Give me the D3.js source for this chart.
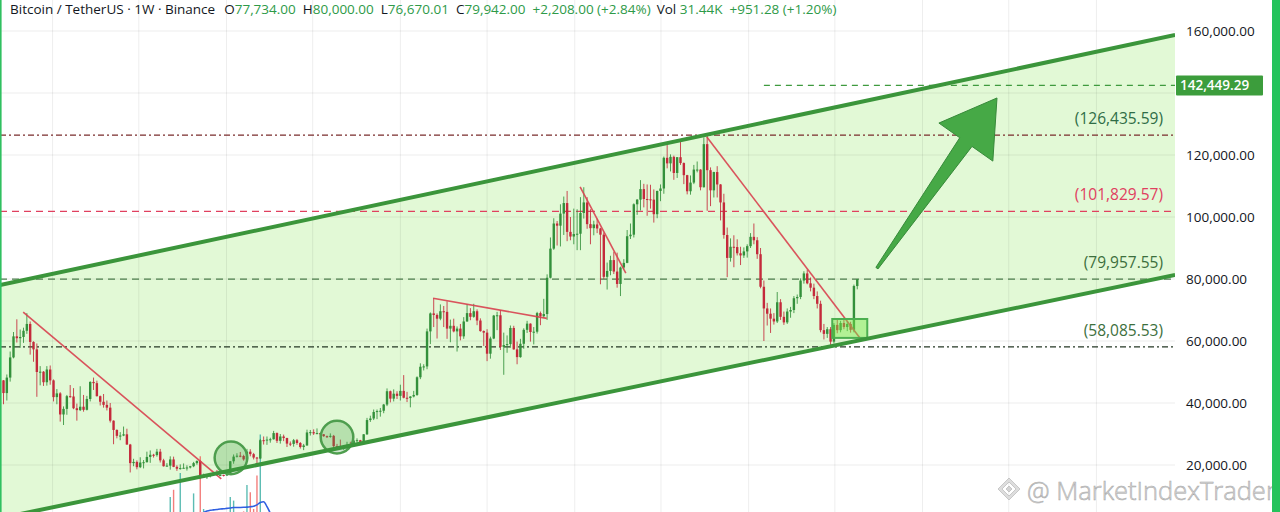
<!DOCTYPE html>
<html><head><meta charset="utf-8">
<script src="https://cdn.jsdelivr.net/npm/d3@7"></script>
<style>html,body{margin:0;padding:0;background:#fff;overflow:hidden}svg{display:block}</style>
</head><body>
<svg id="c" width="1280" height="512"></svg>
<script>
// ---------------- DATA (prices in thousands of USDT, weekly candles) ----------------
const startDate = "2021-09-20"; // first weekly candle
const openK = [
 47.3,43.2,48.2,54.7,61.5,60.9,61.3,63.3,65.5,59.7,57.3,50.0,50.1,46.7,50.8,
 47.3,41.9,43.1,36.3,38.1,42.2,42.1,38.3,37.7,38.8,37.8,41.3,46.8,46.4,42.2,40.4,39.4,38.5,34.3,31.3,
 29.4,29.5,29.9,26.6,20.6,21.0,19.3,20.8,20.9,22.6,23.3,23.2,24.3,21.5,19.6,19.8,21.8,19.4,18.8,19.0,
 19.1,19.2,19.6,20.6,21.3,16.3,16.3,16.4,17.1,17.2,16.8,16.8,
 16.6,17.1,21.2,22.7,23.0,22.9,21.8,24.3,23.5,22.4,22.1,28.0,27.9,28.2,28.3,30.3,27.8,29.2,28.7,26.9,
 26.8,28.0,27.1,25.8,26.3,30.5,30.6,30.2,30.3,29.9,29.3,29.1,29.4,26.1,26.0,25.8,25.9,26.5,26.3,27.9,
 28.0,27.1,29.9,34.5,35.0,37.1,37.4,37.5,39.5,43.8,41.4,43.0,
 42.3,43.9,41.7,41.6,42.1,42.6,48.3,51.7,51.8,63.1,68.9,68.4,67.2,69.6,69.4,64.0,64.9,63.1,64.0,61.5,
 66.3,69.0,67.8,69.6,66.6,63.2,62.7,55.9,60.8,68.2,68.3,58.1,58.7,59.0,64.2,57.3,54.8,59.1,63.6,65.6,
 62.9,63.0,69.0,68.0,68.7,80.4,89.8,97.9,97.2,101.1,104.5,95.2,93.7,
 94.5,94.6,101.3,104.7,97.7,96.4,97.6,96.3,94.3,80.7,82.6,86.1,82.4,78.4,83.7,85.2,93.8,94.3,104.1,105.6,
 109.0,105.8,105.7,105.6,100.9,108.4,109.2,119.1,117.3,119.4,114.2,119.3,117.4,113.5,108.3,111.1,115.3,115.3,109.6,123.5,
 115.1,108.6,114.5,110.5,104.7,94.2,86.8,90.4,90.3,88.3,87.6,88.9,90.6,93.6,92.5,88.0,77.5,70.5,68.8,67.2,
 66.3,72.5,67.8,66.0,69.5,70.0,73.8,74.2,79.5,81.8,78.6,77.2,74.5,72.0,63.5,62.3,63.8,59.8,65.2,63.5,
 65.8,64.5,65.5,63.6,77.73
];
const highK = [
 47.4,49.2,56.6,62.9,67.0,63.7,64.3,69.0,66.3,59.9,59.2,51.9,50.3,51.9,52.1,
 47.6,44.5,43.5,38.9,42.6,45.8,44.8,39.8,45.4,42.6,42.3,47.0,48.2,47.2,42.4,42.9,40.8,40.0,34.4,31.5,
 30.6,32.4,31.7,26.8,22.0,21.5,22.5,21.6,24.3,24.7,23.6,25.2,25.2,22.0,20.6,22.8,22.7,19.9,20.2,20.5,
 19.9,19.7,21.0,21.5,21.5,17.2,16.8,17.4,17.4,18.4,17.0,16.9,
 17.2,21.3,23.4,23.8,24.2,23.3,25.2,25.1,23.9,22.6,28.4,29.2,29.2,28.8,31.0,30.5,30.0,29.8,28.8,27.6,
 28.4,28.4,27.4,26.8,31.4,31.3,31.5,31.8,30.4,30.0,29.5,30.2,29.7,26.8,28.2,26.4,27.5,27.5,28.0,28.6,
 28.1,30.0,35.2,35.9,37.9,37.9,38.4,39.7,44.7,44.0,44.4,43.8,
 45.9,49.0,43.6,42.2,43.9,48.6,52.8,52.5,64.0,69.2,73.8,68.9,71.8,71.3,72.8,66.9,67.2,64.7,65.5,67.7,
 71.9,70.6,72.0,70.2,67.3,63.4,63.8,61.4,68.4,69.4,70.0,62.7,61.8,65.0,64.9,59.8,60.7,64.1,66.5,65.7,
 64.5,69.4,69.5,73.6,81.5,93.4,99.6,98.7,104.1,106.6,108.4,100.0,102.7,
 102.5,106.4,109.6,106.4,102.5,98.8,99.5,96.5,95.0,85.3,87.5,88.8,88.5,84.0,86.4,95.8,97.9,104.4,105.8,111.9,
 110.7,110.5,110.4,108.9,108.5,110.5,119.5,123.2,120.2,119.8,119.3,124.5,117.6,113.6,113.4,116.8,117.9,115.4,125.7,126.2,
 116.0,114.6,116.4,110.6,107.5,96.6,93.1,94.1,92.8,90.4,90.2,91.2,94.8,97.9,93.5,90.0,79.5,72.3,70.5,69.0,
 75.8,73.5,69.5,70.5,71.0,74.5,75.0,80.2,82.5,83.0,80.5,78.5,76.0,73.0,65.5,64.5,64.5,65.8,66.8,66.5,
 67.2,66.5,66.2,78.2,80.0
];
const lowK = [
 39.6,40.8,46.9,54.4,59.5,57.8,59.4,62.3,55.6,53.3,42.0,45.7,45.5,45.6,45.9,
 40.5,39.6,34.0,32.9,36.2,41.7,38.0,34.3,37.4,37.2,37.6,40.5,44.2,42.1,39.2,38.5,37.6,33.7,26.7,28.6,
 28.0,29.3,26.5,17.6,19.6,18.6,19.0,18.9,20.8,20.7,22.4,22.7,20.8,19.5,19.5,18.5,19.3,18.1,18.5,18.9,
 18.2,18.9,19.3,20.1,15.6,15.8,15.5,16.0,16.9,16.5,16.4,16.3,
 16.5,17.0,20.4,22.4,22.5,21.4,21.4,22.8,21.8,19.6,21.9,26.6,26.5,27.2,28.2,27.1,26.9,27.7,25.8,26.1,
 25.9,26.5,25.3,24.8,26.2,29.5,29.7,29.9,29.5,29.1,28.7,28.8,25.2,25.8,25.7,24.9,24.9,26.0,26.0,27.3,
 26.5,26.9,29.7,33.9,34.5,34.8,35.6,36.7,39.0,40.2,40.5,41.3,
 40.8,41.5,40.3,38.6,41.8,42.3,47.7,50.5,50.9,59.0,64.5,60.8,66.7,64.5,60.7,59.6,62.8,56.6,60.2,60.7,
 66.2,66.7,67.5,65.1,63.0,58.4,53.5,54.3,60.6,63.5,57.1,49.1,56.2,57.8,57.2,52.5,54.6,57.5,62.6,59.8,
 58.9,62.4,65.1,67.5,66.8,80.2,89.4,90.8,90.5,94.2,92.2,92.5,91.2,
 89.3,89.3,99.5,96.2,91.2,94.1,94.8,78.3,80.0,76.6,81.2,81.6,77.2,74.5,83.1,85.1,92.9,93.4,100.7,102.1,
 103.1,100.4,102.7,98.2,99.6,105.1,107.5,115.7,114.7,112.0,112.6,116.8,110.6,107.3,107.2,110.6,114.4,108.6,109.5,102.0,
 103.5,106.3,106.3,98.9,93.0,80.6,85.6,83.8,87.6,84.5,86.8,86.9,90.0,91.2,86.5,77.0,60.0,65.0,62.6,65.3,
 65.8,66.8,65.2,65.5,67.5,69.0,72.0,73.5,78.5,78.3,76.0,73.5,70.5,62.8,60.5,61.0,58.7,59.2,62.5,62.8,
 63.8,63.2,62.7,62.8,76.67
];
const closeK = [
 43.2,48.2,54.7,61.5,60.9,61.3,63.3,65.5,59.7,57.3,50.0,50.1,46.7,50.8,47.3,
 41.9,43.1,36.3,38.1,42.2,42.1,38.3,37.7,38.8,37.8,41.3,46.8,46.4,42.2,40.4,39.4,38.5,34.3,31.3,29.4,
 29.5,29.9,26.6,20.6,21.0,19.3,20.8,20.9,22.6,23.3,23.2,24.3,21.5,19.6,19.8,21.8,19.4,18.8,19.0,19.1,
 19.2,19.6,20.6,21.3,16.3,16.3,16.4,17.1,17.2,16.8,16.8,16.6,
 17.1,21.2,22.7,23.0,22.9,21.8,24.3,23.5,22.4,22.1,28.0,27.9,28.2,28.3,30.3,27.8,29.2,28.7,26.9,26.8,
 28.0,27.1,25.8,26.3,30.5,30.6,30.2,30.3,29.9,29.3,29.1,29.4,26.1,26.0,25.8,25.9,26.5,26.3,27.9,28.0,
 27.1,29.9,34.5,35.0,37.1,37.4,37.5,39.5,43.8,41.4,43.0,42.3,
 43.9,41.7,41.6,42.1,42.6,48.3,51.7,51.8,63.1,68.9,68.4,67.2,69.6,69.4,64.0,64.9,63.1,64.0,61.5,66.3,
 69.0,67.8,69.6,66.6,63.2,62.7,55.9,60.8,68.2,68.3,58.1,58.7,59.0,64.2,57.3,54.8,59.1,63.6,65.6,62.9,
 63.0,69.0,68.0,68.7,80.4,89.8,97.9,97.2,101.1,104.5,95.2,93.7,94.5,
 94.6,101.3,104.7,97.7,96.4,97.6,96.3,94.3,80.7,82.6,86.1,82.4,78.4,83.7,85.2,93.8,94.3,104.1,105.6,109.0,
 105.8,105.7,105.6,100.9,108.4,109.2,119.1,117.3,119.4,114.2,119.3,117.4,113.5,108.3,111.1,115.3,115.3,109.6,123.5,115.1,
 108.6,114.5,110.5,104.7,94.2,86.8,90.4,90.3,88.3,87.6,88.9,90.6,93.6,92.5,88.0,77.5,70.5,68.8,67.2,66.3,
 72.5,67.8,66.0,69.5,70.0,73.8,74.2,79.5,81.8,78.6,77.2,74.5,72.0,63.5,62.3,63.8,59.8,65.2,63.5,65.8,
 64.5,65.5,63.6,77.73,79.94
];
// volume (visible part of the volume pane only), starting at candle index volStart
const volStart = 48;
const volumeK = [20,22,40,46,25,60,24,22,26,43,24,74,30,25,22,20,18,19,15,22,40,37,26,24,28,50,44,30,58,92,25,20,15];
const maStart = 58;
const volMA = [24,25.5,27,28.3,29,29.3,29.6,30,30.2,30.5,30.8,31.2,31.3,31.3,31.4,31.6,31.9,32.3,33.4,35.5,36,32,26.5];
// axis ticks
const yTickValues = [20,40,60,80,100,120,160];
const gridValues = [20,40,60,80,100,120,140,160];
const gridDates = ["2022-01-01","2022-07-01","2023-01-01","2023-07-01","2024-01-01","2024-07-01","2025-01-01","2025-07-01","2026-01-01","2026-07-01","2027-01-01","2027-07-01","2028-01-01"];
// horizontal levels and their labels
const levels = [126.43559, 101.82957, 79.95755, 58.08553];
const levelLabels = ["(126,435.59)","(101,829.57)","(79,957.55)","(58,085.53)"];
const targetLevel = 142.44929, targetLabel = "142,449.29", targetStartIdx = 228;
// drawings: [candle index, price k]
const channelUpper = [[-1.05,78.06],[351.3,158.7]];
const channelLower = [[-1.05,2.84],[351.3,81.29]];
const trendLines = [
  [[5.9,69.3],[65.3,15.5]],
  [[128.8,73.8],[162.9,67.3]],
  [[172.9,109.7],[186.6,81.9]],
  [[210.9,125.8],[256.8,61.0]]
];
const circles = [[68.2,22.3],[100.0,29.0]];
const boxCorners = [[248.5,67.1],[259.0,61.0]];
const arrowPts = [[261.9,83.5],[297.9,138.4]];
// header legend
const headerTitle = "Bitcoin / TetherUS · 1W · Binance";
const headerItems = [["O","77,734.00"],["H","80,000.00"],["L","76,670.01"],["C","79,942.00"],["","+2,208.00 (+2.84%)"],["Vol","31.44K"],["","+951.28 (+1.20%)"]];
const watermark = "@ MarketIndexTrader";

// ---------------- DRAWING ----------------
const W = 1280, H = 512, plotRight = 1175;
const FONT = "'Open Sans', Roboto, sans-serif";
const svg = d3.select("#c");
const n = Math.min(openK.length, highK.length, lowK.length, closeK.length);
const x = d3.scaleLinear().domain([0, 256]).range([3.5, 3.5 + 3.335 * 256]);
const y = d3.scaleLinear().domain([20, 160]).range([465, 31]);
const vy = d3.scaleLinear().domain([0, 100]).range([545, 425]);
const t0 = Date.parse(startDate + "T00:00:00Z"), weekMs = 7 * 864e5;
const dateIdx = s => (Date.parse(s + "T00:00:00Z") - t0) / weekMs;
const line = d3.line().x(d => x(d[0])).y(d => y(d[1]));

svg.append("rect").attr("width", W).attr("height", H).attr("fill", "#fff");
const defs = svg.append("defs");
defs.append("clipPath").attr("id", "plot").append("rect").attr("x", 0).attr("y", 0).attr("width", plotRight).attr("height", H);
const g = svg.append("g").attr("clip-path", "url(#plot)");

// channel fill
g.append("path").attr("d", line(channelUpper.concat(channelLower.slice().reverse())) + "Z").attr("fill", "#e2f9d6");

// grid
g.selectAll(".hg").data(gridValues).join("line")
  .attr("x1", 0).attr("x2", plotRight).attr("y1", d => y(d)).attr("y2", d => y(d))
  .attr("stroke", "rgba(0,0,0,0.07)").attr("stroke-width", 1);
g.selectAll(".vg").data(gridDates).join("line")
  .attr("x1", d => x(dateIdx(d))).attr("x2", d => x(dateIdx(d))).attr("y1", 0).attr("y2", H)
  .attr("stroke", "rgba(0,0,0,0.07)").attr("stroke-width", 1);

// level lines
const levelStyle = [
  {c: "#7a2d2d", dash: "6,3,2,3", t: "#2f6d46"},
  {c: "#e0405f", dash: "7,5", t: "#e0405f"},
  {c: "#4d7d4d", dash: "7,5", t: "#3d6f3d"},
  {c: "#263826", dash: "6,3,2,3", t: "#3d6f3d"}
];
levels.forEach((v, k) => {
  g.append("line").attr("x1", 0).attr("x2", plotRight).attr("y1", y(v)).attr("y2", y(v))
    .attr("stroke", levelStyle[k].c).attr("stroke-width", 1.2).attr("stroke-dasharray", levelStyle[k].dash);
});
g.append("line").attr("x1", x(targetStartIdx)).attr("x2", plotRight).attr("y1", y(targetLevel)).attr("y2", y(targetLevel))
  .attr("stroke", "#3f9a3f").attr("stroke-width", 1.2).attr("stroke-dasharray", "6,5");

// volume bars + MA
volumeK.forEach((v, k) => {
  const i = volStart + k;
  const up = closeK[i] >= openK[i];
  g.append("line").attr("x1", x(i)).attr("x2", x(i)).attr("y1", vy(v)).attr("y2", H + 40)
    .attr("stroke", up ? "rgba(38,166,154,0.75)" : "rgba(239,83,80,0.75)").attr("stroke-width", 1.4);
});
g.append("path").attr("d", d3.line().x((d, k) => x(maStart + k)).y(d => vy(d)).curve(d3.curveMonotoneX)(volMA))
  .attr("fill", "none").attr("stroke", "#2f5fe0").attr("stroke-width", 1.6);

// candles
const upC = "#33903b", dnC = "#c42a3b";
const cg = g.append("g");
for (let i = 0; i < n; i++) {
  const o = openK[i], c = closeK[i], h = highK[i], l = lowK[i];
  const col = c >= o ? upC : dnC;
  cg.append("line").attr("x1", x(i)).attr("x2", x(i)).attr("y1", y(h)).attr("y2", y(l))
    .attr("stroke", col).attr("stroke-width", 1).attr("stroke-opacity", 0.85);
  const top = y(Math.max(o, c)), bot = y(Math.min(o, c));
  cg.append("rect").attr("x", x(i) - 1.2).attr("width", 2.4).attr("y", top).attr("height", Math.max(1, bot - top)).attr("fill", col);
}

// trend lines
trendLines.forEach(t => g.append("path").attr("d", line(t)).attr("stroke", "#d8414f").attr("stroke-width", 1.6).attr("fill", "none").attr("stroke-opacity", 0.9));

// circles
circles.forEach(cc => g.append("circle").attr("cx", x(cc[0])).attr("cy", y(cc[1])).attr("r", 16.3)
  .attr("fill", "rgba(70,160,70,0.28)").attr("stroke", "#4e9e4e").attr("stroke-width", 2.5));

// box
{
  const x0 = x(boxCorners[0][0]), x1 = x(boxCorners[1][0]), y0 = y(boxCorners[0][1]), y1 = y(boxCorners[1][1]);
  g.append("rect").attr("x", x0).attr("y", y0).attr("width", x1 - x0).attr("height", y1 - y0)
    .attr("fill", "rgba(120,230,70,0.45)").attr("stroke", "#4caf50").attr("stroke-width", 2);
}

// channel lines
[channelUpper, channelLower].forEach(cl => g.append("path").attr("d", line(cl)).attr("stroke", "#3b953b").attr("stroke-width", 4).attr("fill", "none"));

// arrow
{
  const p0 = [x(arrowPts[0][0]), y(arrowPts[0][1])], p1 = [x(arrowPts[1][0]), y(arrowPts[1][1])];
  const dx = p1[0] - p0[0], dy = p1[1] - p0[1], len = Math.hypot(dx, dy);
  const ux = dx / len, uy = dy / len, px = -uy, py = ux;
  const headLen = 54, headHalf = 33, tailHalf = 1.3, neckHalf = 7.5;
  const b = [p1[0] - ux * headLen, p1[1] - uy * headLen];
  const P = (q, s) => [q[0] + px * s, q[1] + py * s];
  const pts = [P(p0, tailHalf), P(b, neckHalf), P(b, headHalf), p1, P(b, -headHalf), P(b, -neckHalf), P(p0, -tailHalf)];
  g.append("path").attr("d", d3.line()(pts) + "Z").attr("fill", "#46a946").attr("stroke", "#37893a").attr("stroke-width", 1);
}

// level labels
levels.forEach((v, k) => {
  g.append("text").attr("x", 1163).attr("y", y(v) - 17).attr("text-anchor", "end").attr("dominant-baseline", "central")
    .attr("font-family", FONT).attr("font-size", 15.5).attr("fill", levelStyle[k].t).text(levelLabels[k]);
});

// header
{
  const HY = 14, HF = 13.5;
  const ht = svg.append("text").attr("x", 10).attr("y", HY).attr("font-family", FONT).attr("font-size", HF).attr("fill", "#131722").text(headerTitle);
  let cx = 10 + ht.node().getComputedTextLength() + 9;
  headerItems.forEach(([lab, val], k) => {
    const t = svg.append("text").attr("x", cx).attr("y", HY).attr("font-family", FONT).attr("font-size", HF);
    if (lab) t.append("tspan").attr("fill", "#131722").text(lab + (lab === "Vol" ? " " : ""));
    t.append("tspan").attr("fill", "#2e9a48").text(val);
    cx += t.node().getComputedTextLength() + (k === 4 ? 6 : 7);
  });
}

// right axis panel
svg.append("rect").attr("x", plotRight).attr("y", 0).attr("width", W - plotRight).attr("height", H).attr("fill", "#fff");
const fmt = d3.format(",.2f");
svg.selectAll(".yl").data(yTickValues).join("text")
  .attr("x", 1186).attr("y", d => y(d)).attr("dominant-baseline", "central")
  .attr("font-family", FONT).attr("font-size", 13.5).attr("fill", "#131722").text(d => fmt(d * 1000));
svg.append("rect").attr("x", 1176).attr("y", y(targetLevel) - 10).attr("width", 87).attr("height", 20).attr("fill", "#3c9d3c").attr("rx", 1);
svg.append("text").attr("x", 1180).attr("y", y(targetLevel)).attr("dominant-baseline", "central")
  .attr("font-family", FONT).attr("font-size", 13.5).attr("font-weight", 600).attr("fill", "#fff").text(targetLabel);

// watermark (over plot and axis panel)
{
  const wm = svg.append("g").attr("opacity", 0.9);
  wm.append("text").attr("x", 1027).attr("y", 500).attr("font-family", FONT).attr("font-size", 25.5).attr("font-weight", 300)
    .attr("fill", "#d2d2d2").attr("stroke", "#9c9c9c").attr("stroke-width", 0.5).text(watermark);
  const lx = 1009, ly = 489;
  const diam = (cx, cy, r) => `M${cx},${cy - r}L${cx + r},${cy}L${cx},${cy + r}L${cx - r},${cy}Z`;
  wm.append("path").attr("d", diam(lx, ly, 11) + diam(lx, ly, 7)).attr("fill", "#dadada").attr("fill-rule", "evenodd").attr("stroke", "#a8a8a8").attr("stroke-width", 0.6);
  wm.append("path").attr("d", diam(lx, ly, 3)).attr("fill", "#cfcfcf").attr("stroke", "#a8a8a8").attr("stroke-width", 0.6);
}

// window borders
svg.append("rect").attr("x", 1272).attr("y", 0).attr("width", 8).attr("height", H).attr("fill", "#24c35c");
svg.append("rect").attr("x", 0).attr("y", 0).attr("width", 1.6).attr("height", H).attr("fill", "#30c060");
</script>
</body></html>
